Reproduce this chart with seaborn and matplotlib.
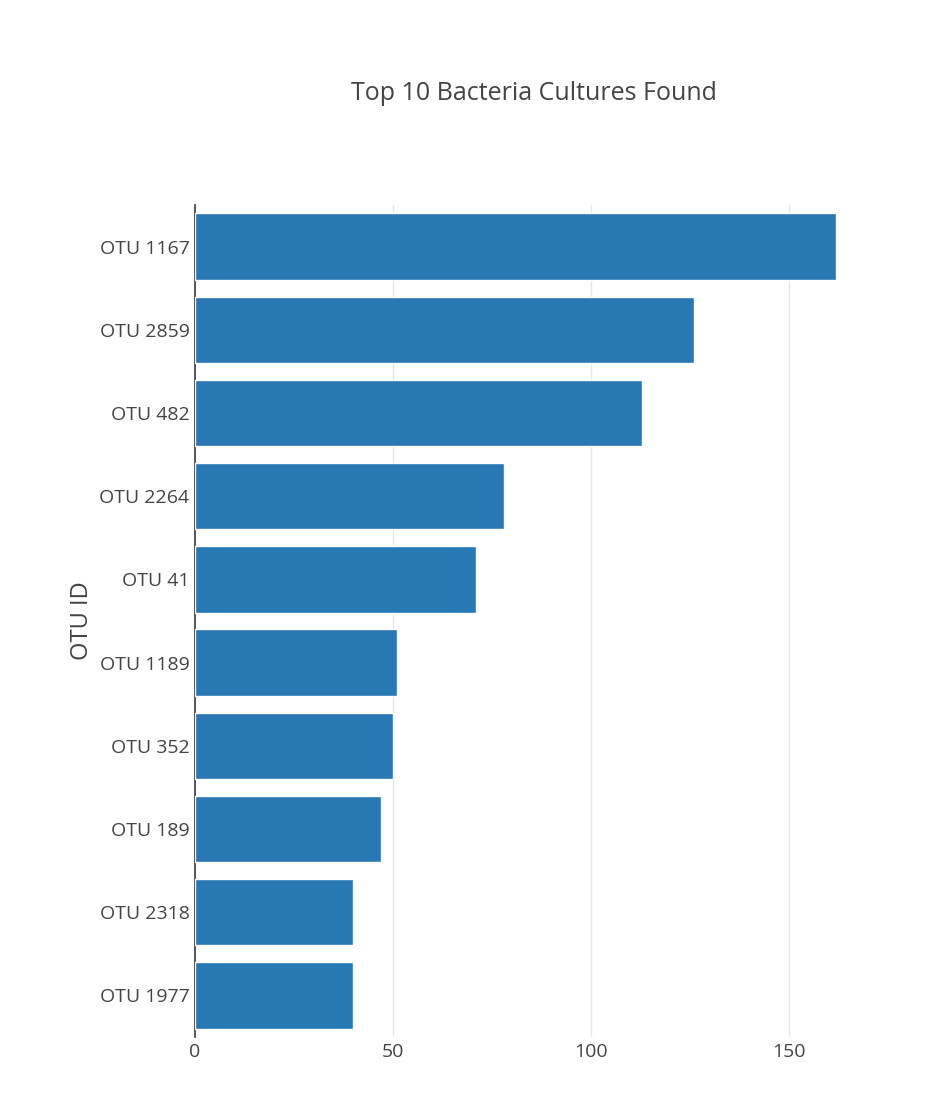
import matplotlib
matplotlib.use('Agg')
import matplotlib.pyplot as plt
import seaborn as sns
import pandas as pd

otu_labels = ['OTU 1167', 'OTU 2859', 'OTU 482', 'OTU 2264', 'OTU 41',
              'OTU 1189', 'OTU 352', 'OTU 189', 'OTU 2318', 'OTU 1977']
sample_values = [162, 126, 113, 78, 71, 51, 50, 47, 40, 40]

df = pd.DataFrame({'otu': otu_labels, 'value': sample_values})

sns.set_theme(style='white')
plt.rcParams['font.family'] = ['Open Sans', 'DejaVu Sans']

fig = plt.figure(figsize=(9.4, 11.1), dpi=100)
ax = fig.add_axes([195/940, 1 - 1037/1110, (868 - 195)/940, (1037 - 205)/1110])

sns.barplot(data=df, x='value', y='otu', color='#2878b4', saturation=1,
            width=0.8, ax=ax, zorder=3)

ax.set_xlim(0, 170)
ax.set_xticks([0, 50, 100, 150])
ax.grid(axis='x', color='#e6e6e6', linewidth=1, zorder=0)
for s in ['top', 'right', 'bottom']:
    ax.spines[s].set_visible(False)
ax.spines['left'].set_color('#444444')
ax.tick_params(axis='both', labelsize=14, colors='#444444', length=0, pad=4)
ax.set_xlabel('')
ax.set_ylabel('OTU ID', fontsize=17, color='#444444', labelpad=4)

fig.text(534/940, 1 - 93/1110, 'Top 10 Bacteria Cultures Found',
         ha='center', va='center', fontsize=18, color='#444444')

plt.savefig('out.png', dpi=100)
